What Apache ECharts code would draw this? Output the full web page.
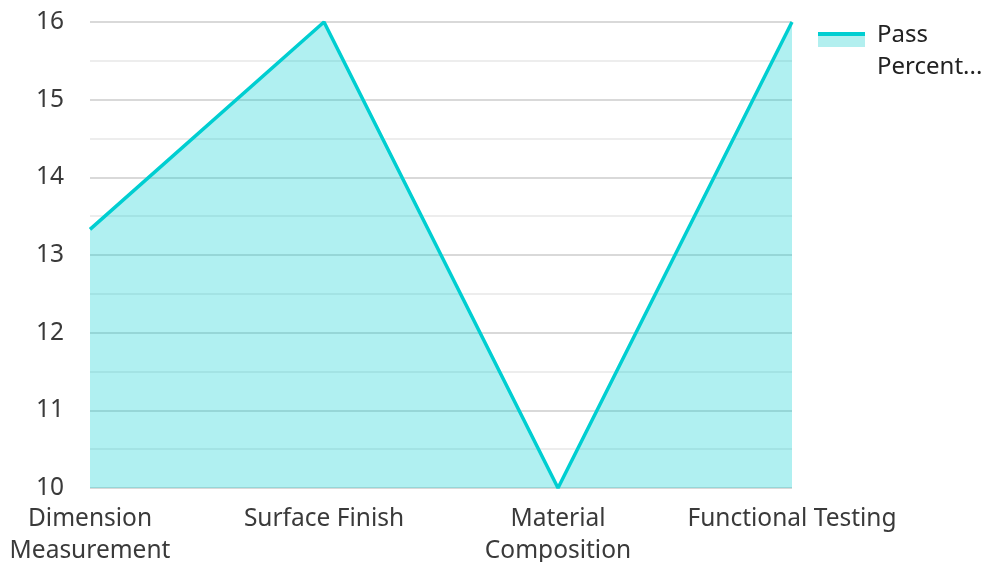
<!DOCTYPE html>
<html>
<head>
<meta charset="utf-8">
<style>
  html, body { margin: 0; padding: 0; background: #ffffff; }
  #chart { width: 987px; height: 562px; }
</style>
<script src="https://cdn.jsdelivr.net/npm/echarts@6/dist/echarts.min.js"></script>
</head>
<body>
<div id="chart"></div>
<script>
// Inspection stages and pass figures
const categories = ['Dimension\nMeasurement', 'Surface Finish', 'Material\nComposition', 'Functional Testing'];
const passValues = [13.33, 16, 10, 16];
const seriesName = 'Pass Percentage';
const yMin = 10;
const yMax = 16;

const lineColor = '#00CED1';
const textColor = '#3a3a3a';
const fontFamily = '"Noto Sans", "Open Sans", sans-serif';

const chart = echarts.init(document.getElementById('chart'), null, { renderer: 'canvas' });

chart.setOption({
  animation: false,
  backgroundColor: '#ffffff',
  textStyle: { fontFamily: fontFamily },
  grid: { left: 90, right: 195, top: 22, bottom: 74, containLabel: false, outerBoundsMode: 'none' },
  legend: {
    orient: 'vertical',
    left: 818,
    top: -4,
    padding: 0,
    itemWidth: 47,
    itemHeight: 15,
    icon: 'rect',
    itemStyle: {
      color: new echarts.graphic.LinearGradient(0, 0, 0, 1, [
        { offset: 0, color: lineColor },
        { offset: 0.27, color: lineColor },
        { offset: 0.27, color: '#b2efef' },
        { offset: 1, color: '#b2efef' }
      ]),
      borderWidth: 0
    },
    // series name shortened to two lines, first line level with the icon
    formatter: function () { return '{g| }\n{t|Pass}\n{t|Percent...}'; },
    textStyle: {
      fontFamily: fontFamily,
      fontSize: 24,
      lineHeight: 32,
      color: '#222222',
      rich: {
        g: { fontSize: 8, lineHeight: 23, height: 23 },
        t: { fontFamily: fontFamily, fontSize: 24, lineHeight: 32, color: '#222222', padding: [0, 0, 0, 7] }
      }
    },
    data: [seriesName]
  },
  xAxis: {
    type: 'category',
    data: categories,
    boundaryGap: false,
    axisLine: { show: false },
    axisTick: { show: false },
    splitLine: { show: false },
    axisLabel: {
      interval: 0,
      margin: 15,
      fontFamily: fontFamily,
      fontSize: 24.5,
      lineHeight: 32,
      color: textColor
    }
  },
  yAxis: {
    type: 'value',
    min: yMin,
    max: yMax,
    interval: 1,
    axisLine: { show: false },
    axisTick: { show: false },
    minorTick: { show: false, splitNumber: 2 },
    minorSplitLine: { show: true, lineStyle: { color: '#e8e8e8', width: 1.5 } },
    splitLine: { show: true, lineStyle: { color: '#cccccc', width: 1.5 } },
    axisLabel: {
      margin: 26,
      fontFamily: fontFamily,
      fontSize: 24.5,
      color: textColor
    }
  },
  series: [{
    name: seriesName,
    type: 'line',
    data: passValues,
    symbol: 'none',
    lineStyle: { color: lineColor, width: 3.5 },
    itemStyle: { color: lineColor },
    areaStyle: { color: lineColor, opacity: 0.31, origin: 'start' }
  }]
});
</script>
</body>
</html>
